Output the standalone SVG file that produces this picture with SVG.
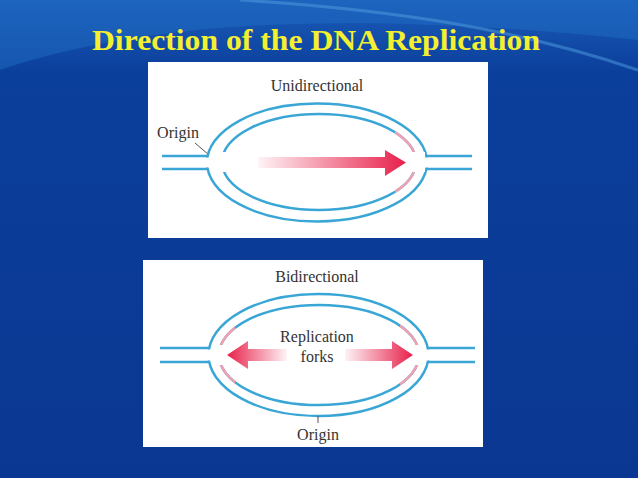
<svg xmlns="http://www.w3.org/2000/svg" width="638" height="478" viewBox="0 0 638 478">
<defs>
<linearGradient id="bg" x1="0" y1="0" x2="0" y2="1"><stop offset="0" stop-color="#1a5db8"/><stop offset="0.15" stop-color="#0b3f9c"/><stop offset="1" stop-color="#0a3791"/></linearGradient>
<linearGradient id="ar" x1="0" y1="0" x2="1" y2="0"><stop offset="0" stop-color="#e8204a" stop-opacity="0.05"/><stop offset="1" stop-color="#e8204a"/></linearGradient>
<linearGradient id="al" x1="1" y1="0" x2="0" y2="0"><stop offset="0" stop-color="#e8204a" stop-opacity="0.05"/><stop offset="1" stop-color="#e8204a"/></linearGradient>
<clipPath id="c1"><rect x="395" y="120" width="40" height="90"/></clipPath>
<clipPath id="c2l"><rect x="205" y="320" width="30" height="70"/></clipPath>
<clipPath id="c2r"><rect x="400" y="320" width="30" height="70"/></clipPath>
<style>
.b{fill:none;stroke:#3aa6d6;stroke-width:2.5}
.p{fill:none;stroke:#f0a0b0;stroke-width:2.5}
.t{font-family:"Liberation Serif",serif;font-size:16px;fill:#333;text-anchor:middle}
</style>
</defs>
<rect width="638" height="478" fill="url(#bg)"/>
<path d="M0,70 C150,20 350,10 638,40 L638,0 L0,0Z" fill="#1f6cc4" opacity="0.5"/>
<path d="M240,0 C400,10 520,30 638,70" fill="none" stroke="#4f9de0" stroke-width="3" opacity="0.5"/>
<text x="92" y="50" font-family="Liberation Serif,serif" font-weight="bold" font-size="30" fill="#f4f030" textLength="448" lengthAdjust="spacingAndGlyphs">Direction of the DNA Replication</text>
<g id="panel1">
<rect x="148" y="62" width="340" height="176" fill="#fff"/>
<text class="t" x="317" y="91">Unidirectional</text>
<text class="t" x="178" y="138">Origin</text>
<line x1="195" y1="143" x2="209" y2="155" stroke="#555" stroke-width="1"/>
<ellipse class="b" cx="317" cy="162.5" rx="110" ry="59"/>
<rect x="198" y="157.5" width="18" height="10" fill="#fff"/>
<rect x="419" y="157.5" width="18" height="10" fill="#fff"/>
<ellipse class="b" cx="319" cy="162" rx="97" ry="48"/>
<ellipse class="p" cx="319" cy="162" rx="97" ry="48" clip-path="url(#c1)"/>
<rect x="215" y="152" width="15" height="20" fill="#fff"/>
<rect x="405" y="152" width="20" height="20" fill="#fff"/>
<path class="b" d="M162,156 H208 M162,169 H208 M427,156 H472 M427,169 H472"/>
<path d="M258,157 H385 V150 L406,162.5 L385,176 V168 H258Z" fill="url(#ar)"/>
</g>
<g id="panel2">
<rect x="143" y="260" width="340" height="187" fill="#fff"/>
<text class="t" x="317" y="282">Bidirectional</text>
<ellipse class="b" cx="318.5" cy="355" rx="110" ry="61"/>
<rect x="199" y="349.5" width="18" height="11" fill="#fff"/>
<rect x="420" y="349.5" width="18" height="11" fill="#fff"/>
<ellipse class="b" cx="319" cy="355" rx="100" ry="50"/>
<ellipse class="p" cx="319" cy="355" rx="100" ry="50" clip-path="url(#c2l)"/>
<ellipse class="p" cx="319" cy="355" rx="100" ry="50" clip-path="url(#c2r)"/>
<rect x="212" y="345" width="14" height="20" fill="#fff"/>
<rect x="412" y="345" width="14" height="20" fill="#fff"/>
<path class="b" d="M160,348 H209 M160,362 H209 M428,348 H475 M428,362 H475"/>
<path d="M287,349 H248 V341 L227,355 L248,369 V361 H287Z" fill="url(#al)"/>
<path d="M345,349 H392 V341 L413,355 L392,369 V361 H345Z" fill="url(#ar)"/>
<text class="t" x="317" y="342">Replication</text>
<text class="t" x="317" y="362">forks</text>
<line x1="318" y1="416" x2="318" y2="423" stroke="#555" stroke-width="1"/>
<text class="t" x="318" y="440">Origin</text>
</g>
</svg>
